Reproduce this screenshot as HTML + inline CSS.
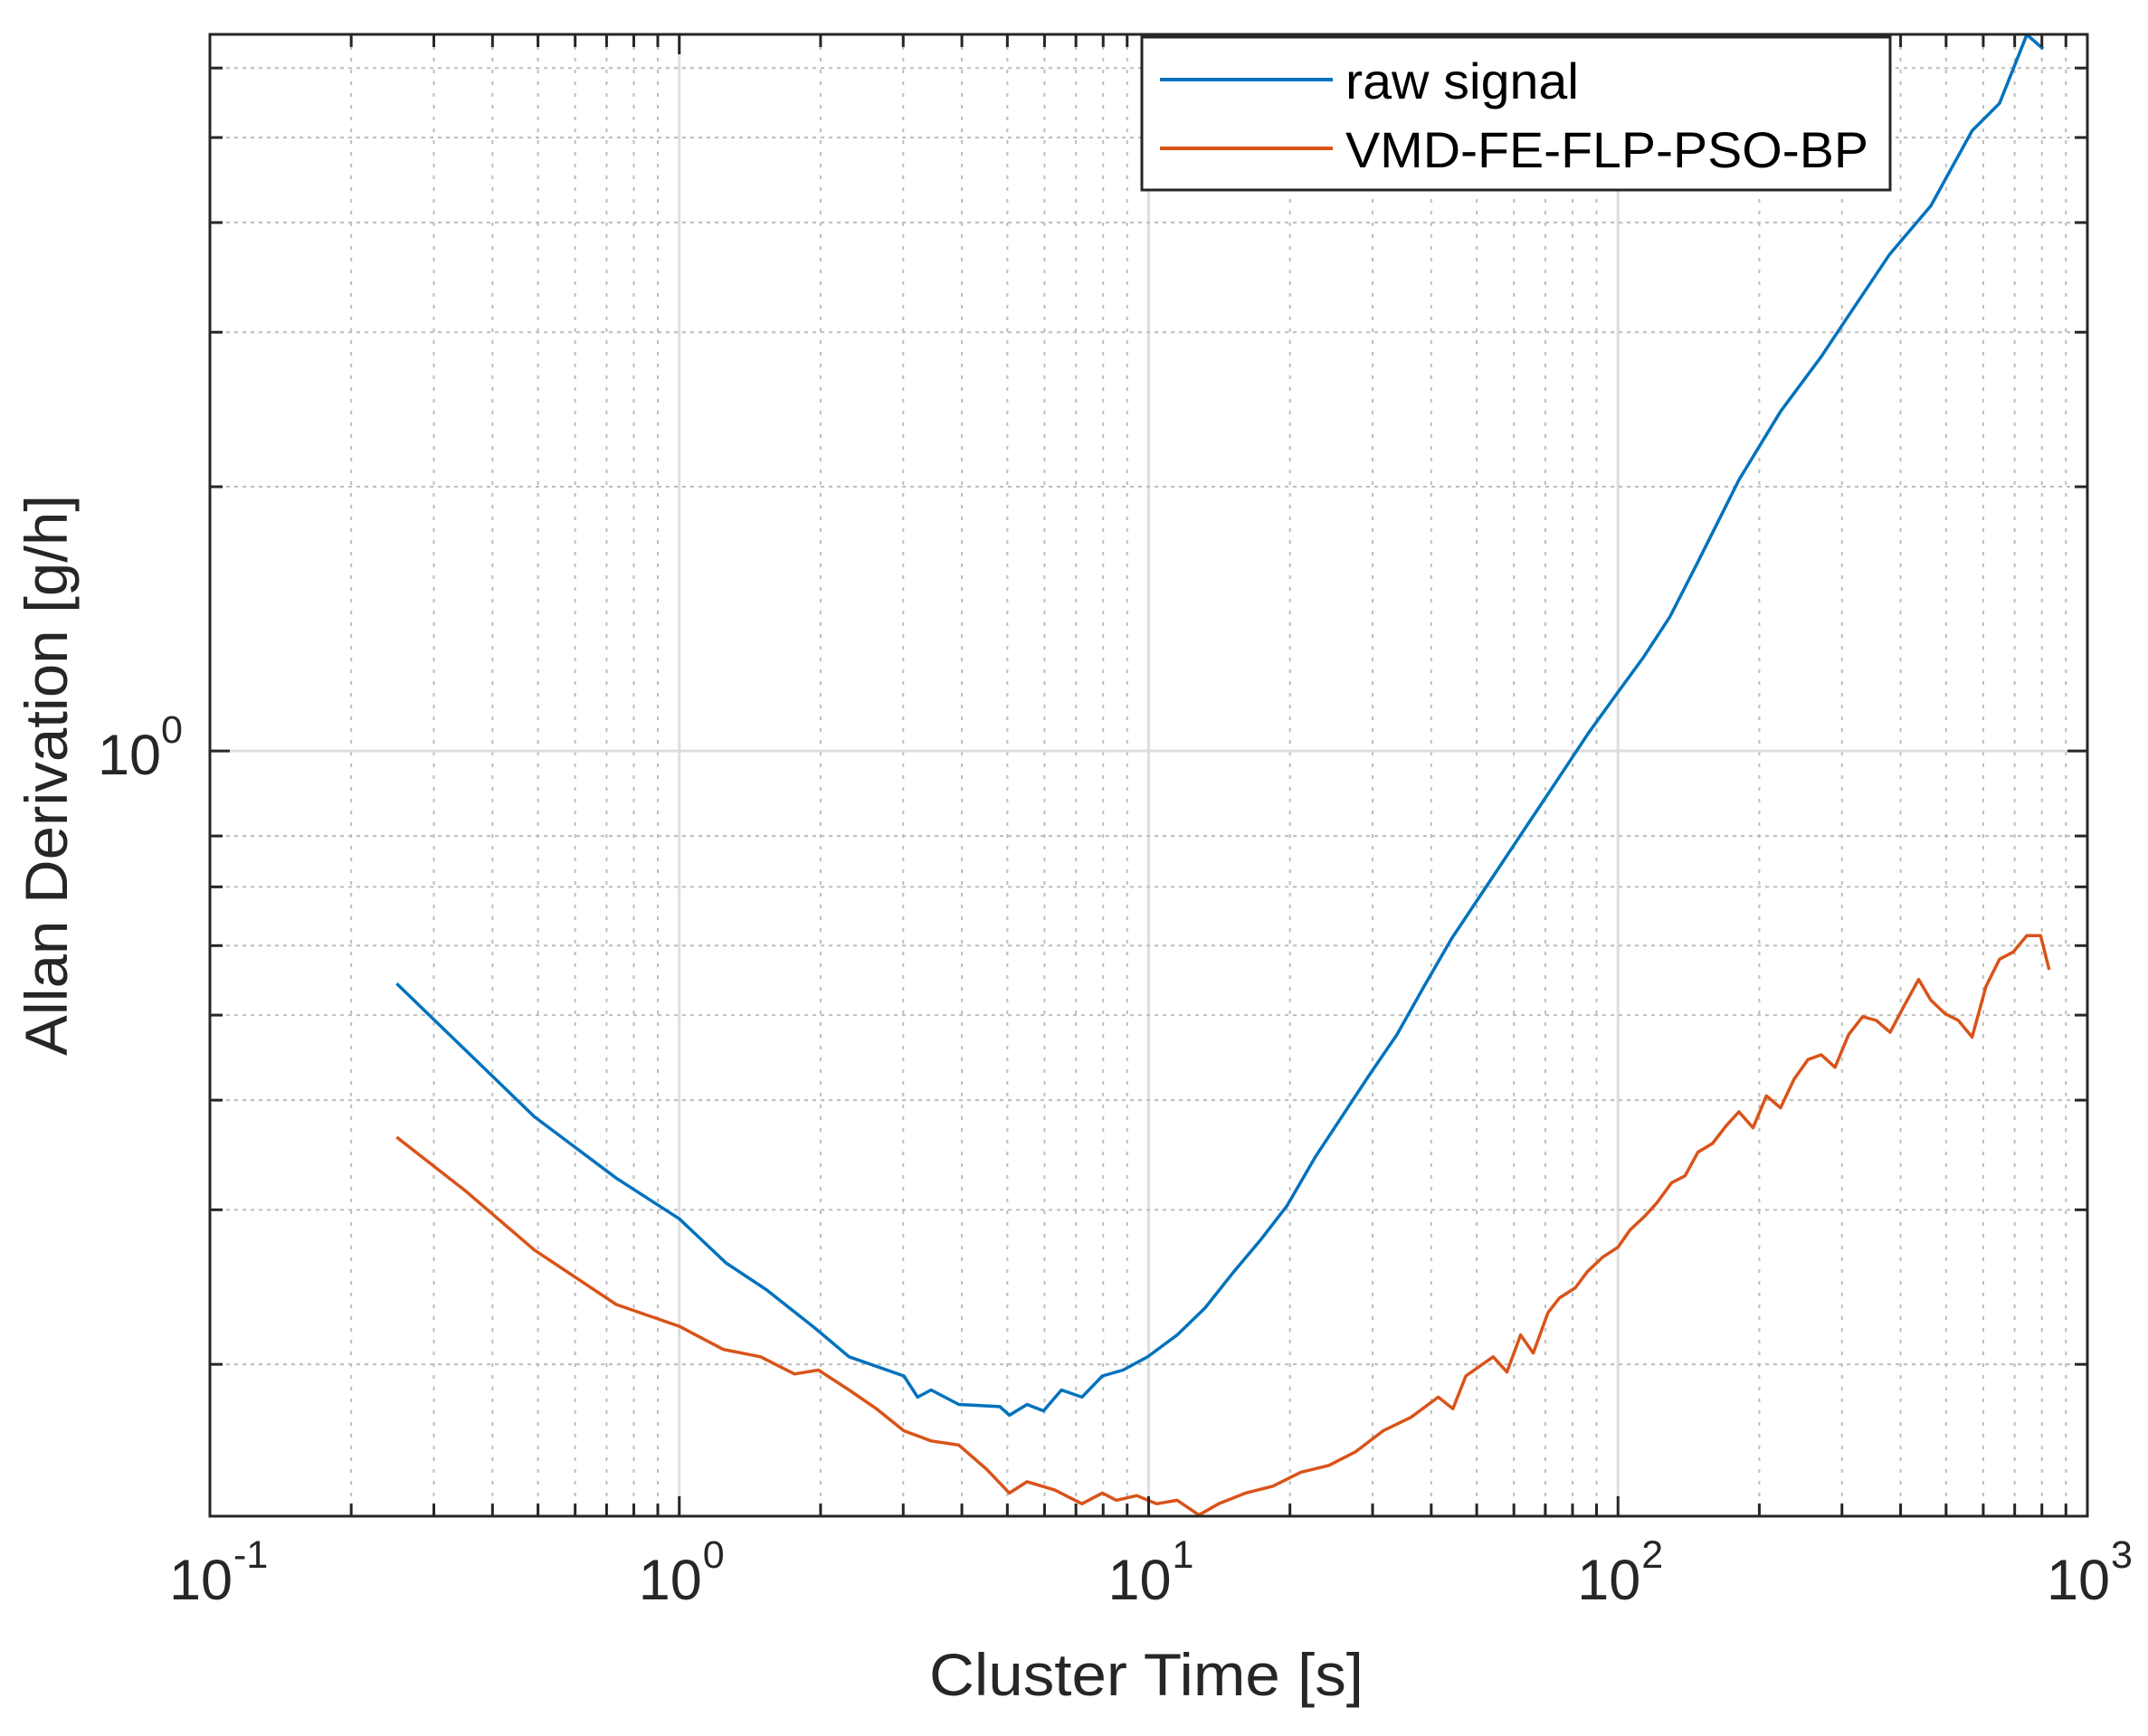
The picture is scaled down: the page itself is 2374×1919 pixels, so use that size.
<!DOCTYPE html>
<html><head><meta charset="utf-8"><style>
html,body{margin:0;padding:0;background:#fff;}
svg{display:block;font-family:"Liberation Sans",Arial,sans-serif;}
</style></head><body>
<svg id="chart" width="2374" height="1919" viewBox="0 0 2374 1919" xmlns="http://www.w3.org/2000/svg">
<rect width="2374" height="1919" fill="#fff"/>
<g id="grid"></g>
<g id="series"></g>
<g id="axes"></g>
<text x="0" y="0" transform="translate(74,857) rotate(-90)" text-anchor="middle" font-size="66" fill="#262626" textLength="620" lengthAdjust="spacingAndGlyphs">Allan Derivation [g/h]</text>
<text x="1267" y="1874" text-anchor="middle" font-size="66" fill="#262626" textLength="480" lengthAdjust="spacingAndGlyphs">Cluster Time [s]</text>
<g>
<rect x="1262" y="41" width="827" height="169" fill="#fff" stroke="#262626" stroke-width="3"/>
<line x1="1282" y1="88" x2="1473" y2="88" stroke="#0072BD" stroke-width="4"/>
<text x="1487" y="109" font-size="56" fill="#000" textLength="258" lengthAdjust="spacingAndGlyphs">raw signal</text>
<line x1="1282" y1="164" x2="1473" y2="164" stroke="#D95319" stroke-width="4"/>
<text x="1487" y="185" font-size="56" fill="#000" textLength="578" lengthAdjust="spacingAndGlyphs">VMD-FE-FLP-PSO-BP</text>
</g>
</svg>
<script>
const rawX = [0.25,0.491,0.734,1,1.257,1.537,1.945,2.30,3.01,3.22,3.44,3.94,4.82,5.05,5.51,5.97,6.52,7.21,7.97,8.82,9.95,11.5,13.2,15.1,17.3,19.7,22.6,25.8,29.5,33.8,38.6,44.2,50.6,57.8,66.2,75.7,86.5,100,113,129,148,181,222,271,310,379,464,568,650,743,805];
const rawY = [0.543,0.383,0.326,0.293,0.261,0.243,0.220,0.204,0.194,0.1835,0.187,0.180,0.179,0.175,0.180,0.177,0.187,0.1835,0.194,0.197,0.204,0.216,0.232,0.254,0.277,0.303,0.344,0.383,0.427,0.475,0.539,0.611,0.681,0.758,0.845,0.941,1.048,1.167,1.276,1.422,1.642,2.036,2.437,2.814,3.134,3.68,4.18,5.09,5.47,6.55,6.31];
const vmdX = [0.25,0.351,0.491,0.734,1,1.24,1.49,1.76,1.98,2.30,2.63,3.01,3.44,3.94,4.51,5.05,5.51,6.31,7.21,7.97,8.53,9.43,10.4,11.5,12.8,14.1,16.1,18.4,21.1,24.2,27.6,31.6,36.2,41.4,44.5,47.4,54.2,58,62.0,66,70.9,75,81.1,86,92.8,100,106,114,121,130,139,148,159,170,181,194,207,222,237,254,271,290,310,332,355,380,406,437,464,497,531,568,608,650,695,743,795,829];
const vmdY = [0.363,0.315,0.270,0.234,0.221,0.208,0.204,0.195,0.197,0.187,0.178,0.168,0.1636,0.1618,0.152,0.1427,0.147,0.1438,0.1387,0.1427,0.140,0.1417,0.1387,0.140,0.1347,0.1387,0.1427,0.1453,0.1507,0.1534,0.159,0.168,0.174,0.1835,0.178,0.194,0.204,0.196,0.216,0.206,0.229,0.238,0.2445,0.255,0.265,0.272,0.2844,0.295,0.3055,0.322,0.328,0.349,0.357,0.374,0.388,0.372,0.4045,0.392,0.4225,0.445,0.4505,0.436,0.475,0.498,0.493,0.478,0.511,0.549,0.520,0.502,0.493,0.472,0.539,0.579,0.590,0.616,0.616,0.563];
const xTickExps = [-1,0,1,2,3];
const yMinorVals = [0.2,0.3,0.4,0.5,0.6,0.7,0.8,2,3,4,5,6];

const L=232,R=2307,T=38,B=1676;
const xMinL=-1,xMaxL=3,yMinL=-0.872,yMaxL=0.8165;
const NS="http://www.w3.org/2000/svg";
function sx(v){return L+(Math.log10(v)-xMinL)/(xMaxL-xMinL)*(R-L);}
function sy(v){return B-(Math.log10(v)-yMinL)/(yMaxL-yMinL)*(B-T);}
function mk(tag,attrs,parent){const e=document.createElementNS(NS,tag);for(const k in attrs)e.setAttribute(k,attrs[k]);parent.appendChild(e);return e;}
const grid=document.getElementById('grid'),axes=document.getElementById('axes'),series=document.getElementById('series');

for(let d=-1;d<3;d++){
  for(let m=1;m<=9;m++){
    const v=m*Math.pow(10,d);const x=sx(v);
    if(m===1){
      const g=mk('line',{x1:x,y1:T,x2:x,y2:B,stroke:'#dedede','stroke-width':3},grid);
      
      
    } else {
      const g=mk('line',{x1:x,y1:T,x2:x,y2:B,stroke:'#bdbdbd','stroke-width':2,'stroke-dasharray':'4 9'},grid);
      
      
    }
    const len=m===1?22:14;
    const t1=mk('line',{x1:x,y1:B,x2:x,y2:B-len,stroke:'#262626','stroke-width':3},axes);
    
    
    const t2=mk('line',{x1:x,y1:T,x2:x,y2:T+len,stroke:'#262626','stroke-width':3},axes);
    
    
  }
}
{
  const y=sy(1);
  const g=mk('line',{x1:L,y1:y,x2:R,y2:y,stroke:'#dedede','stroke-width':3},grid);
  
  
  for(const [a,b] of [[L,L+22],[R,R-22]]){
    const t=mk('line',{x1:a,y1:y,x2:b,y2:y,stroke:'#262626','stroke-width':3},axes);
    
    
  }
}
yMinorVals.forEach(v=>{
  const y=sy(v);
  const g=mk('line',{x1:L,y1:y,x2:R,y2:y,stroke:'#bdbdbd','stroke-width':2,'stroke-dasharray':'4 5'},grid);
  
  
  for(const [a,b] of [[L,L+14],[R,R-14]]){
    const t=mk('line',{x1:a,y1:y,x2:b,y2:y,stroke:'#262626','stroke-width':3},axes);
    
    
  }
});
function path(xs,ys,color,name){
  let d='';xs.forEach((x,i)=>{d+=(i?'L':'M')+sx(x).toFixed(1)+','+sy(ys[i]).toFixed(1);});
  const p=mk('path',{d:d,fill:'none',stroke:color,'stroke-width':3.5,'stroke-linejoin':'round'},series);
  
  
}
path(rawX,rawY,'#0072BD','raw-signal-line');
path(vmdX,vmdY,'#D95319','vmd-fe-flp-pso-bp-line');
const fr=mk('rect',{x:L,y:T,width:R-L,height:B-T,fill:'none',stroke:'#262626','stroke-width':3},axes);


xTickExps.forEach(e=>{
  const x=sx(Math.pow(10,e));
  const t=mk('text',{x:x-10,y:1768,'text-anchor':'middle','font-size':63,fill:'#262626'},axes);
  
  
  t.textContent='10';
  const s=mk('text',{x:x+26,y:1733,'font-size':43,fill:'#262626'},axes);
  
  
  s.textContent=String(e);
});
{
  const y=sy(1);
  const t=mk('text',{x:108,y:y+26,'font-size':63,fill:'#262626'},axes);
  
  
  t.textContent='10';
  const s=mk('text',{x:178,y:y-9,'font-size':43,fill:'#262626'},axes);
  
  
  s.textContent='0';
}
</script>
</body></html>
